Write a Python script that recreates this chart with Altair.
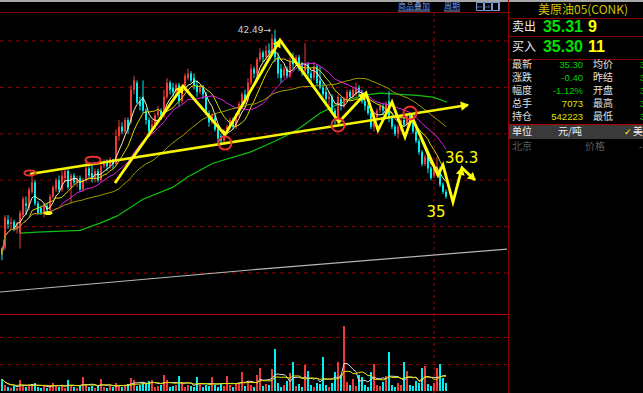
import math
import altair as alt
import pandas as pd

# ------------------------------------------------------------------ data
opens = [
    33.05, 33.10, 34.30, 34.10, 34.20, 33.90, 33.70, 34.50, 35.00, 34.80,
    35.50, 35.90, 35.00, 34.80, 34.60, 34.90, 34.70, 35.30, 35.60, 36.00,
    35.60, 36.10, 36.40, 35.70, 36.20, 35.90, 36.10, 35.60, 36.00, 36.50,
    36.30, 36.10, 36.40, 36.00, 36.60, 36.80, 36.60, 36.90, 36.70, 37.90,
    38.30, 38.10, 38.60, 38.50, 39.90, 40.20, 39.40, 39.60, 39.00, 38.60,
    38.10, 38.40, 38.80, 39.00, 38.80, 39.60, 40.20, 40.00, 39.80, 40.10,
    39.40, 39.90, 40.40, 40.60, 40.40, 40.10, 39.80, 40.00, 39.70, 38.90,
    38.50, 38.70, 38.20, 37.90, 37.70, 38.10, 38.30, 38.60, 38.30, 38.80,
    39.30, 39.70, 39.50, 40.20, 40.80, 40.60, 41.20, 41.50, 41.30, 41.60,
    41.50, 42.10, 41.30, 40.80, 40.50, 40.80, 40.50, 41.20, 41.00, 41.30,
    41.00, 40.70, 41.00, 40.60, 40.40, 40.90, 40.30, 40.00, 39.80, 39.50,
    39.60, 39.00, 38.60, 39.50, 39.20, 39.50, 39.80, 39.60, 39.70, 40.00,
    39.80, 39.40, 39.20, 38.90, 38.30, 38.70, 39.00, 39.20, 39.00, 39.40,
    38.70, 38.30, 38.00, 38.20, 38.60, 38.40, 38.80, 38.50, 38.10, 37.70,
    37.20, 36.70, 37.00, 36.50, 36.20, 36.30, 36.50, 35.80, 35.50,
]
highs = [
    33.10, 34.50, 34.50, 34.40, 34.30, 34.20, 34.70, 35.30, 35.30, 35.70,
    36.30, 36.00, 35.10, 34.90, 35.00, 35.00, 35.40, 35.80, 36.10, 36.20,
    36.40, 36.50, 36.50, 36.30, 36.30, 36.20, 36.20, 36.10, 36.90, 36.60,
    36.70, 36.50, 36.50, 36.70, 36.90, 36.90, 37.00, 36.90, 38.20, 38.60,
    38.50, 38.70, 38.70, 40.10, 40.50, 40.30, 39.60, 40.30, 39.10, 38.70,
    38.60, 38.90, 39.20, 39.10, 39.90, 40.40, 40.30, 40.20, 40.20, 40.20,
    40.00, 40.60, 40.80, 40.70, 40.60, 40.30, 40.10, 40.10, 39.80, 39.00,
    38.90, 38.90, 38.30, 38.00, 38.20, 38.40, 38.70, 38.70, 38.90, 39.40,
    39.80, 39.90, 40.40, 41.00, 40.90, 41.30, 41.70, 41.60, 41.80, 41.90,
    42.30, 42.49, 41.50, 41.00, 40.90, 40.90, 41.30, 41.50, 41.40, 41.40,
    41.10, 41.90, 41.10, 40.70, 41.10, 41.00, 40.90, 40.20, 40.00, 39.80,
    39.70, 39.10, 39.70, 39.60, 39.60, 39.90, 39.90, 40.00, 40.20, 40.10,
    39.90, 39.60, 39.30, 39.00, 38.90, 39.10, 39.30, 39.30, 39.40, 39.85,
    38.80, 38.40, 38.40, 38.70, 38.70, 38.90, 38.90, 38.60, 38.20, 37.80,
    37.30, 37.10, 37.10, 36.60, 36.60, 37.00, 36.60, 35.90, 35.60,
]
lows = [
    32.55, 33.00, 33.90, 33.90, 33.80, 33.70, 33.05, 34.40, 34.50, 34.70,
    35.40, 34.90, 34.50, 34.50, 34.40, 34.50, 34.60, 35.20, 35.50, 35.50,
    35.50, 35.90, 35.60, 35.00, 35.80, 35.70, 35.50, 35.50, 35.90, 36.10,
    35.90, 35.90, 35.90, 35.90, 36.50, 36.40, 36.50, 36.50, 36.60, 37.70,
    38.00, 38.00, 38.00, 38.40, 39.70, 39.30, 39.00, 38.90, 38.40, 37.90,
    38.00, 38.20, 38.70, 38.60, 38.70, 39.50, 39.70, 39.60, 39.60, 39.20,
    39.30, 39.80, 40.30, 40.20, 39.90, 39.60, 39.70, 39.50, 38.80, 38.30,
    38.40, 38.10, 37.60, 37.50, 37.55, 38.00, 38.20, 38.20, 38.20, 38.70,
    39.10, 39.30, 39.40, 40.10, 40.40, 40.50, 41.10, 41.10, 41.20, 41.30,
    41.40, 41.10, 40.40, 40.20, 40.40, 40.40, 40.40, 40.80, 40.90, 40.70,
    40.50, 40.60, 40.40, 40.20, 40.30, 40.10, 39.90, 39.60, 39.30, 39.20,
    38.90, 38.40, 38.40, 39.00, 39.10, 39.40, 39.50, 39.50, 39.60, 39.60,
    39.30, 39.00, 38.80, 38.20, 38.10, 38.60, 38.90, 38.80, 38.90, 38.50,
    38.20, 37.90, 37.80, 38.10, 38.30, 38.30, 38.40, 38.00, 37.60, 37.10,
    36.60, 36.60, 36.30, 36.00, 36.10, 36.20, 35.70, 35.40, 35.20,
]
closes = [
    32.80, 34.40, 34.10, 34.20, 33.90, 34.10, 34.60, 35.20, 34.90, 35.60,
    35.90, 35.00, 34.60, 34.60, 34.90, 34.70, 35.30, 35.70, 36.00, 35.60,
    36.20, 36.40, 35.70, 36.20, 35.90, 36.10, 35.60, 36.00, 36.50, 36.20,
    36.10, 36.40, 36.00, 36.60, 36.80, 36.60, 36.90, 36.70, 37.90, 38.30,
    38.10, 38.60, 38.20, 39.90, 40.30, 39.35, 39.20, 39.00, 38.60, 38.10,
    38.40, 38.80, 39.00, 38.80, 39.60, 40.20, 39.90, 39.80, 40.10, 39.40,
    39.90, 40.50, 40.60, 40.30, 40.10, 39.80, 40.00, 39.70, 38.90, 38.50,
    38.80, 38.20, 37.80, 37.70, 38.10, 38.30, 38.60, 38.30, 38.80, 39.30,
    39.70, 39.50, 40.20, 40.80, 40.60, 41.20, 41.50, 41.30, 41.60, 41.50,
    42.10, 41.30, 40.60, 40.40, 40.80, 40.50, 41.10, 41.00, 41.30, 41.00,
    40.70, 41.00, 40.60, 40.40, 40.90, 40.20, 40.00, 39.70, 39.50, 39.60,
    39.00, 38.70, 39.60, 39.20, 39.50, 39.80, 39.60, 39.90, 40.00, 39.80,
    39.40, 39.20, 38.90, 38.30, 38.70, 39.00, 39.20, 39.00, 39.30, 38.70,
    38.30, 38.00, 38.30, 38.60, 38.40, 38.80, 38.50, 38.10, 37.70, 37.20,
    36.70, 37.00, 36.50, 36.10, 36.50, 36.60, 35.80, 35.50, 35.30,
]
volumes = [
    12, 6, 4, 3, 5, 3, 11, 5, 4, 6,
    7, 8, 4, 3, 5, 3, 6, 8, 5, 4,
    6, 3, 11, 5, 4, 3, 5, 14, 6, 4,
    5, 3, 6, 12, 4, 3, 5, 4, 8, 6,
    4, 5, 7, 13, 11, 5, 6, 9, 8, 10,
    11, 4, 5, 6, 16, 11, 4, 5, 6, 15,
    9, 4, 6, 5, 4, 14, 8, 4, 6, 5,
    14, 6, 4, 8, 5, 15, 6, 4, 7, 8,
    19, 5, 10, 6, 4, 16, 23, 5, 7, 6,
    22, 42, 8, 4, 6, 10, 18, 29, 5, 7,
    4, 26, 20, 6, 4, 8, 7, 34, 6, 4,
    8, 19, 29, 16, 65, 9, 6, 12, 5, 16,
    14, 6, 4, 19, 27, 6, 5, 9, 15, 39,
    6, 4, 8, 6, 29, 20, 6, 5, 10, 8,
    23, 25, 7, 5, 8, 23, 27, 13, 8,
]

# long moving averages drawn by the software
green_idx = [6, 11.7, 26, 32.7, 38.3, 47, 57, 61.7, 70.3, 82.7, 91.7, 98.3,
             106, 112.7, 120.3, 126, 131.7, 138.3, 143.7, 148.3]
green_val = [33.72, 33.76, 33.84, 34.15, 34.45, 35.18, 35.70, 36.13, 36.73, 37.21,
             37.72, 38.16, 38.89, 39.32, 39.66, 39.75, 39.71, 39.66, 39.58, 39.36]
gray_idx = [-0.67, 82.67, 168.33]
gray_val = [31.18, 32.13, 33.03]

# hand-drawn annotations (candle index, price)
trend_idx = [9.33, 155.33]
trend_val = [36.27, 39.24]
zig_idx = [37.67, 60.33, 74.33, 92.67, 112.33, 121.33, 125.33, 130.0, 134.33,
           136.67, 145.33, 147.0, 150.33, 153.33, 157.67]
zig_val = [35.88, 40.06, 37.95, 42.04, 38.51, 39.76, 38.16, 39.37, 37.86,
           38.72, 36.22, 36.66, 35.06, 36.53, 36.01]
zig_arrow_at = [1, 3, 5, 13, 14]
circle_idx = [74.33, 112.0, 136.0]
circle_val = [37.60, 38.38, 38.90]
ellipse_idx = [9.33, 30.33]
ellipse_val = [36.31, 36.87]
blob_idx = [15.33]
blob_val = [34.59]
grid_prices = [42, 40, 38, 36, 34, 32]
cursor_idx = [144]

peak_label = "42.49→"
peak_idx, peak_val = 89.67, 42.47
note_texts = ["36.3", "35"]
note_idx = [147.67, 144.67]
note_val = [36.96, 34.63]

title_text = "美原油05(CONK)"
quote_labels = ["卖出", "买入"]
quote_prices = ["35.31", "35.30"]
quote_sizes = ["9", "11"]
row_labels = ["最新", "涨跌", "幅度", "总手", "持仓"]
row_values = ["35.30", "-0.40", "-1.12%", "7073", "542223"]
row_labels2 = ["均价", "昨结", "开盘", "最高", "最低"]
unit_texts = ["单位", "元/吨", "美"]
city_texts = ["北京", "价格"]
toolbar_texts = ["商品叠加", "周期"]

# ------------------------------------------------------------------ scales / styles
X0, DX = 2.0, 3.0
P_TOP, P_BOT = 41.0, 273.0            # pixel rows of 42 and 32
PX_PER = (P_BOT - P_TOP) / 10.0
XS = alt.Scale(domain=[0, 148], range=[X0, X0 + DX * 148], nice=False, zero=False)
PS = alt.Scale(domain=[32, 42], range=[P_BOT, P_TOP], nice=False, zero=False)
VS = alt.Scale(domain=[0, 65], range=[391, 326], nice=False, zero=False)

RED = "#f03a3a"
CYAN = "#00f0f0"
YEL = "#ffff00"
GRID = "#990000"
BORDER = "#8c0000"
CJK = "Noto Sans CJK SC"
NUM = "Liberation Sans"

df = pd.DataFrame({"idx": list(range(len(closes))), "open": opens, "high": highs,
                   "low": lows, "close": closes, "vol": volumes})
ONE = pd.DataFrame({"k": [0]})

def xq(f):
    return alt.X(f + ":Q", scale=XS, axis=None)

def yq(f, s=PS):
    return alt.Y(f + ":Q", scale=s, axis=None)

updown = alt.condition("datum.close >= datum.open", alt.value(RED), alt.value(CYAN))

def hrule(y, x1, x2, color, w=1.0, dash=None):
    kw = dict(color=color, strokeWidth=w)
    if dash:
        kw["strokeDash"] = dash
    return alt.Chart(ONE).mark_rule(**kw).encode(x=alt.value(x1), x2=alt.value(x2), y=alt.value(y))

def vrule(x, y1, y2, color, w=1.0, dash=None):
    kw = dict(color=color, strokeWidth=w)
    if dash:
        kw["strokeDash"] = dash
    return alt.Chart(ONE).mark_rule(**kw).encode(x=alt.value(x), y=alt.value(y1), y2=alt.value(y2))

def label(s, x, y, color, size, align="left", weight="normal", font=CJK):
    return alt.Chart(pd.DataFrame({"t": [s]})).mark_text(
        align=align, baseline="middle", color=color, fontSize=size,
        fontWeight=weight, font=font).encode(x=alt.value(x), y=alt.value(y), text="t:N")

def to_px(i, p):
    return X0 + DX * i, P_BOT - (p - 32) * PX_PER

def from_px(x, y):
    return (x - X0) / DX, 32 + (P_BOT - y) / PX_PER

def arrowhead(a, b, size=64, back=3.0):
    ax, ay = to_px(*a)
    bx, by = to_px(*b)
    dx, dy = bx - ax, by - ay
    L = math.hypot(dx, dy)
    ux, uy = dx / L, dy / L
    ang = math.degrees(math.atan2(ux, -uy)) % 360
    ci, cp = from_px(bx - ux * back, by - uy * back)
    return alt.Chart(pd.DataFrame({"i": [ci], "p": [cp]})).mark_point(
        shape="triangle-up", filled=True, color=YEL, size=size, opacity=1,
        angle=round(ang, 2)).encode(x=xq("i"), y=yq("p"))

ELLIPSE = "M -1 0 C -1 -0.6 1 -0.6 1 0 C 1 0.6 -1 0.6 -1 0 Z"

layers = []

# header line and borders
layers.append(hrule(1, 0, 643, "#a8a8a8", 2))
layers.append(hrule(12.5, 0, 508, BORDER, 1))
layers.append(hrule(314.5, 0, 508, "#c00000", 1))
layers.append(vrule(508.5, 0, 393, BORDER, 1))

# grid
layers.append(alt.Chart(pd.DataFrame({"p": grid_prices})).mark_rule(
    color=GRID, strokeDash=[4, 4], strokeWidth=1).encode(
    y=yq("p"), x=alt.value(0), x2=alt.value(507)))
layers.append(hrule(337.5, 0, 507, GRID, 1, [4, 4]))
layers.append(hrule(364.5, 0, 507, GRID, 1, [4, 4]))
layers.append(alt.Chart(pd.DataFrame({"i": cursor_idx})).mark_rule(
    color="#a00000", strokeDash=[3, 3], strokeWidth=1).encode(
    x=xq("i"), y=alt.value(13), y2=alt.value(393)))

# long MAs
layers.append(alt.Chart(pd.DataFrame({"i": gray_idx, "p": gray_val})).mark_line(
    color="#b8b8b8", strokeWidth=1.2).encode(x=xq("i"), y=yq("p")))
layers.append(alt.Chart(pd.DataFrame({"i": green_idx, "p": green_val})).mark_line(
    color="#10c010", strokeWidth=1.2).encode(x=xq("i"), y=yq("p")))

# candles
base = alt.Chart(df)
layers.append(base.mark_rule(strokeWidth=1).encode(x=xq("idx"), y=yq("low"), y2="high:Q", color=updown))
layers.append(base.mark_rule(strokeWidth=2).encode(x=xq("idx"), y=yq("open"), y2="close:Q", color=updown))

# short MAs
for win, col in [(5, "#f0f0b8"), (10, "#d8d800"), (20, "#e020e0"), (40, "#9a9a00")]:
    layers.append(base.transform_window(
        ma="mean(close)", frame=[-(win - 1), 0], sort=[alt.SortField("idx")]
    ).mark_line(color=col, strokeWidth=1).encode(x=xq("idx"), y=yq("ma")))

# volume
layers.append(base.mark_rule(strokeWidth=2).encode(
    x=xq("idx"), y=alt.Y("vol:Q", scale=VS, axis=None), y2=alt.datum(0), color=updown))
for win, col in [(5, "#d8d8d8"), (10, "#e0e000")]:
    layers.append(base.transform_window(
        mv="mean(vol)", frame=[-(win - 1), 0], sort=[alt.SortField("idx")]
    ).mark_line(color=col, strokeWidth=1).encode(x=xq("idx"), y=alt.Y("mv:Q", scale=VS, axis=None)))

# annotations
layers.append(alt.Chart(pd.DataFrame({"i": trend_idx, "p": trend_val})).mark_line(
    color="#f4f400", strokeWidth=2.5).encode(x=xq("i"), y=yq("p")))
layers.append(alt.Chart(pd.DataFrame({"i": zig_idx, "p": zig_val, "o": list(range(len(zig_idx)))})).mark_line(
    color=YEL, strokeWidth=2.8, strokeJoin="miter").encode(x=xq("i"), y=yq("p"), order="o:Q"))
layers.append(arrowhead((trend_idx[0], trend_val[0]), (trend_idx[1], trend_val[1]), size=90))
for k in zig_arrow_at:
    layers.append(arrowhead((zig_idx[k - 1], zig_val[k - 1]), (zig_idx[k], zig_val[k]), size=80))

layers.append(alt.Chart(pd.DataFrame({"i": circle_idx, "p": circle_val})).mark_point(
    shape="circle", size=170, color="#e83030", strokeWidth=2, opacity=1).encode(x=xq("i"), y=yq("p")))
layers.append(alt.Chart(pd.DataFrame({"i": ellipse_idx[:1], "p": ellipse_val[:1]})).mark_point(
    shape=ELLIPSE, size=121, color="#e83030", strokeWidth=2, opacity=1).encode(x=xq("i"), y=yq("p")))
layers.append(alt.Chart(pd.DataFrame({"i": ellipse_idx[1:], "p": ellipse_val[1:]})).mark_point(
    shape=ELLIPSE, size=225, color="#e83030", strokeWidth=2, opacity=1).encode(x=xq("i"), y=yq("p")))
layers.append(alt.Chart(pd.DataFrame({"i": blob_idx, "p": blob_val})).mark_point(
    shape=ELLIPSE, size=81, color=YEL, filled=True, opacity=1).encode(x=xq("i"), y=yq("p")))

layers.append(alt.Chart(pd.DataFrame({"i": [peak_idx], "p": [peak_val], "t": [peak_label]})).mark_text(
    align="right", baseline="middle", color="#d0d0d0", fontSize=9, font="DejaVu Sans").encode(
    x=xq("i"), y=yq("p"), text="t:N"))
layers.append(alt.Chart(pd.DataFrame({"i": note_idx[:1], "p": note_val[:1], "t": note_texts[:1]})).mark_text(
    align="left", baseline="middle", color=YEL, fontSize=15, font="DejaVu Sans").encode(
    x=xq("i"), y=yq("p"), text="t:N"))
layers.append(alt.Chart(pd.DataFrame({"i": note_idx[1:], "p": note_val[1:], "t": note_texts[1:]})).mark_text(
    align="center", baseline="middle", color=YEL, fontSize=15, font="DejaVu Sans").encode(
    x=xq("i"), y=yq("p"), text="t:N"))

# toolbar
layers.append(label(toolbar_texts[0], 414, 6.5, "#7a9ad8", 8, align="center"))
layers.append(hrule(11, 398, 430, "#7a9ad8", 1))
layers.append(label(toolbar_texts[1], 452, 6.5, "#7a9ad8", 8, align="center"))
layers.append(hrule(11, 444, 460, "#7a9ad8", 1))
for bx in [476, 484, 492]:
    layers.append(alt.Chart(ONE).mark_rect(fill="#000000", stroke="#7a9ad8", strokeWidth=1).encode(
        x=alt.value(bx + 0.5), x2=alt.value(bx + 7.5), y=alt.value(2.5), y2=alt.value(10.5)))
layers.append(label("⇦", 479.5, 6.5, "#7a9ad8", 7, align="center", font="DejaVu Sans"))
layers.append(label("⇨", 487.5, 6.5, "#7a9ad8", 7, align="center", font="DejaVu Sans"))
layers.append(vrule(498.5, 3, 10, "#7a9ad8", 1))

# right panel
layers.append(label(title_text, 583, 10, "#d2c300", 12, align="center"))
for yy in [18.5, 36.5, 59.5]:
    layers.append(hrule(yy, 509, 643, BORDER, 1))
for k, yy in enumerate([27, 47]):
    layers.append(label(quote_labels[k], 512, yy, "#e8e8e8", 12))
    layers.append(label(quote_prices[k], 583, yy, "#00e000", 16, align="right", weight="bold", font=NUM))
    layers.append(label(quote_sizes[k], 588, yy, YEL, 16, align="left", weight="bold", font=NUM))
row_colors = ["#00d000", "#00d000", "#00d000", "#e0e000", "#e0e000"]
for k, yy in enumerate([65, 78, 91, 104, 117]):
    layers.append(label(row_labels[k], 512, yy, "#e0e0e0", 10))
    layers.append(label(row_values[k], 583, yy, row_colors[k], 9.5, align="right", font=NUM))
    layers.append(label(row_labels2[k], 593, yy, "#e0e0e0", 10))
    layers.append(label("3", 640, yy, "#00d000", 9.5, font=NUM))
layers.append(alt.Chart(ONE).mark_rect(fill="#3a3a3a").encode(
    x=alt.value(509), x2=alt.value(643), y=alt.value(125), y2=alt.value(139)))
layers.append(hrule(124.5, 509, 643, "#b00000", 1))
layers.append(label(unit_texts[0], 512, 132, "#f0f0f0", 10))
layers.append(label(unit_texts[1], 558, 132, "#f0f0f0", 10))
layers.append(label("✓", 624, 132, YEL, 9, font="DejaVu Sans"))
layers.append(label(unit_texts[2], 633, 132, "#f0f0f0", 10))
layers.append(label(city_texts[0], 512, 147, "#5c5c5c", 10))
layers.append(label(city_texts[1], 585, 147, "#5c5c5c", 10))
layers.append(label("-", 639, 147, "#5c5c5c", 10, font=NUM))

chart = alt.layer(*layers).resolve_scale(x="independent", y="independent").properties(
    width=643, height=393, padding=0, autosize="none", background="#000000"
).configure_view(strokeWidth=0)

chart.save("out.html", embed_options={"renderer": "svg", "actions": False})
